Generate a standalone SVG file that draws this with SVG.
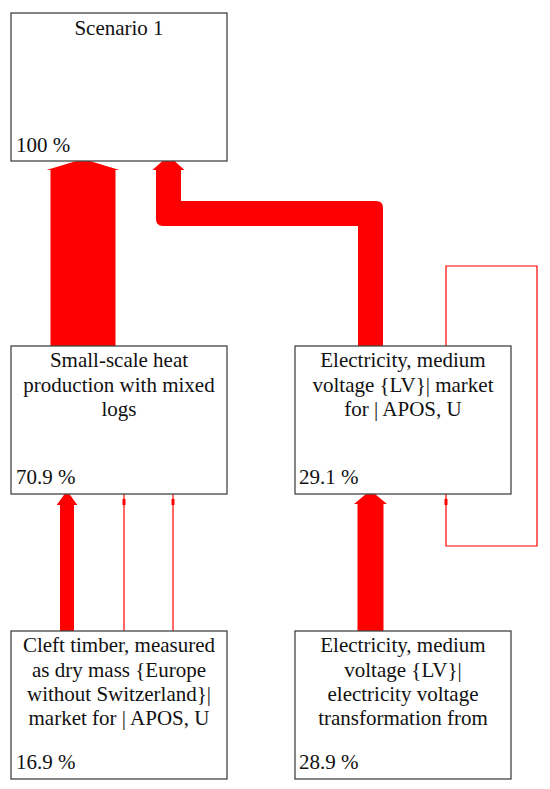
<svg xmlns="http://www.w3.org/2000/svg" width="550" height="789" viewBox="0 0 550 789">
<style>
.box{fill:#fff;stroke:#444;stroke-width:1.3}
.t{font-family:"Liberation Serif","Times New Roman",serif;font-size:21px;fill:#111}
.c{text-anchor:middle}
.flow{fill:#f00}
.thin{fill:none;stroke:#f00;stroke-width:1.2}
</style>
<g id="connectors">
  <!-- Small-scale heat -> Scenario 1 -->
  <path class="flow" d="M50.5,346 V170 H46.5 L76.4,161 H89.6 L119.5,170 H115.5 V346 Z"/>
  <!-- Electricity market -> Scenario 1 -->
  <path class="flow" d="M358,346 V226 H163 Q156,226 156,219 V170 H152.5 L162.5,161 H174.5 L184.5,170 H181 V201 H376 Q383,201 383,208 V346 Z"/>
  <!-- Cleft timber -> Small-scale heat -->
  <path class="flow" d="M60,631 V505 H56.7 L64.6,494 H69.4 L77.3,505 H74 V631 Z"/>
  <!-- thin inputs to Small-scale heat -->
  <line class="thin" x1="124" y1="631" x2="124" y2="494"/>
  <rect class="flow" x="122.5" y="499" width="3" height="6"/>
  <line class="thin" x1="173" y1="631" x2="173" y2="494"/>
  <rect class="flow" x="171.5" y="499" width="3" height="6"/>
  <!-- Electricity transformation -> Electricity market -->
  <path class="flow" d="M357.5,631 V504 H354 L366,494 H375 L387,504 H383.5 V631 Z"/>
  <!-- self loop -->
  <polyline class="thin" points="446,346 446,266 537,266 537,546 446,546 446,494"/>
  <rect class="flow" x="444.5" y="499" width="3" height="6"/>
</g>
<g id="scenario1">
  <rect class="box" x="11" y="13" width="216" height="148"/>
  <text class="t c" x="119" y="35">Scenario 1</text>
  <text class="t" x="16" y="152">100 %</text>
</g>
<g id="heat">
  <rect class="box" x="11" y="346" width="216" height="148"/>
  <text class="t c" x="119" y="367">Small-scale heat</text>
  <text class="t c" x="119" y="391.5">production with mixed</text>
  <text class="t c" x="119" y="416">logs</text>
  <text class="t" x="16" y="484">70.9 %</text>
</g>
<g id="elec-market">
  <rect class="box" x="295" y="346" width="216" height="148"/>
  <text class="t c" x="403" y="367">Electricity, medium</text>
  <text class="t c" x="403" y="391.5">voltage {LV}| market</text>
  <text class="t c" x="403" y="416">for | APOS, U</text>
  <text class="t" x="299" y="484">29.1 %</text>
</g>
<g id="cleft-timber">
  <rect class="box" x="11" y="631" width="216" height="148"/>
  <text class="t c" x="119" y="652">Cleft timber, measured</text>
  <text class="t c" x="119" y="676.5">as dry mass {Europe</text>
  <text class="t c" x="119" y="701">without Switzerland}|</text>
  <text class="t c" x="119" y="725">market for | APOS, U</text>
  <text class="t" x="16" y="768.5">16.9 %</text>
</g>
<g id="elec-transform">
  <rect class="box" x="295" y="631" width="216" height="148"/>
  <text class="t c" x="403" y="652">Electricity, medium</text>
  <text class="t c" x="403" y="676.5">voltage {LV}|</text>
  <text class="t c" x="403" y="701">electricity voltage</text>
  <text class="t c" x="403" y="725">transformation from</text>
  <text class="t" x="299" y="768.5">28.9 %</text>
</g>
</svg>
